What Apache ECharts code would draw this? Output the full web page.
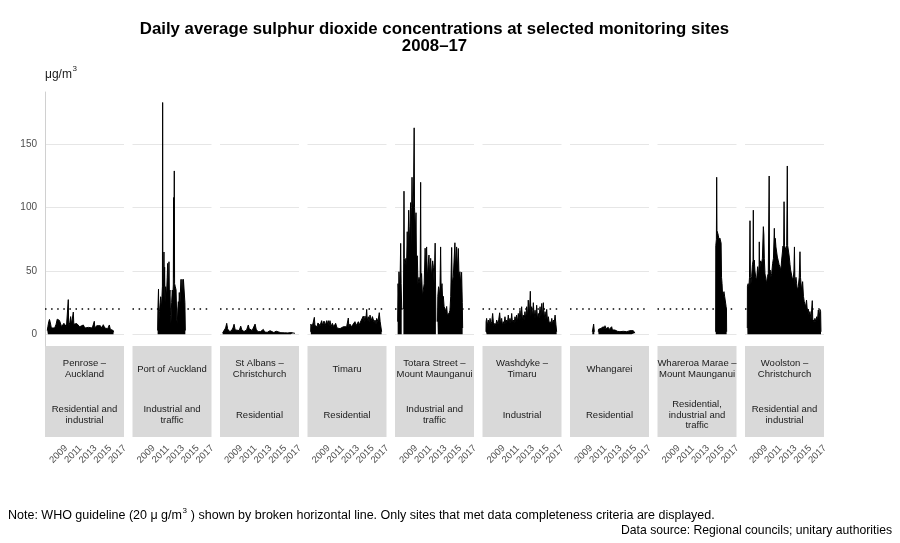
<!DOCTYPE html>
<html><head><meta charset="utf-8">
<script src="https://cdn.jsdelivr.net/npm/echarts@6/dist/echarts.min.js"></script>
<style>html,body{margin:0;padding:0;background:#fff}#c{width:900px;height:543px}</style>
</head><body><div id="c"></div>
<script>
// ---------------- data ----------------
const siteNames = ['Penrose –\nAuckland', 'Port of Auckland', 'St Albans –\nChristchurch', 'Timaru',
  'Totara Street –\nMount Maunganui', 'Washdyke –\nTimaru', 'Whangarei', 'Whareroa Marae –\nMount Maunganui', 'Woolston –\nChristchurch'];
const siteTypes = ['Residential and\nindustrial', 'Industrial and\ntraffic', 'Residential', 'Residential',
  'Industrial and\ntraffic', 'Industrial', 'Residential', 'Residential,\nindustrial and\ntraffic', 'Residential and\nindustrial'];
const yearTicks = [2009, 2011, 2013, 2015, 2017];
const valueTicks = [0, 50, 100, 150];
const whoGuideline = 20;

// [decimal year, µg/m3] – upper envelope of the daily series
const penrose = [[2008.0,3],[2008.08,6],[2008.2,10],[2008.3,11.8],[2008.42,9],[2008.55,5],[2008.75,4.5],[2009.0,5],[2009.2,8],[2009.35,12],[2009.5,13],[2009.65,11],[2009.8,10],[2009.95,6],[2010.1,6],[2010.25,8.7],[2010.45,8],[2010.6,6],[2010.8,7],[2010.85,27.4],[2010.9,7],[2011.05,9],[2011.17,14],[2011.3,8],[2011.45,9],[2011.53,17.6],[2011.6,8],[2011.8,9.5],[2012.0,8.5],[2012.2,9.5],[2012.4,6],[2012.6,5],[2012.89,7.4],[2013.1,5],[2013.3,6],[2013.6,5.5],[2013.85,6],[2014.1,5],[2014.3,5],[2014.38,10.3],[2014.45,5],[2014.7,6.8],[2014.95,6],[2015.2,6.8],[2015.4,5],[2015.6,7.6],[2015.8,5],[2016.06,6],[2016.2,4.5],[2016.42,7.4],[2016.55,4],[2016.75,3.4],[2016.95,3],[2017.0,1.5]];
const portAuckland = [[2011.1,3],[2011.14,20],[2011.22,35.8],[2011.27,10],[2011.35,18],[2011.45,25],[2011.51,29.7],[2011.6,20],[2011.69,30],[2011.75,38],[2011.78,183],[2011.81,40],[2011.88,30],[2011.96,65],[2012.0,38],[2012.05,53],[2012.1,25],[2012.19,37.6],[2012.3,30],[2012.4,45],[2012.46,56],[2012.55,35],[2012.64,57.3],[2012.7,30],[2012.78,35],[2012.85,15],[2012.91,9],[2013.0,25],[2013.09,35],[2013.16,30],[2013.23,39],[2013.27,108],[2013.31,45],[2013.36,129],[2013.4,40],[2013.5,37.6],[2013.6,35],[2013.7,12],[2013.77,8],[2013.84,20],[2013.91,25.8],[2013.98,20],[2014.04,33],[2014.12,22],[2014.2,35],[2014.27,43.4],[2014.35,30],[2014.42,43.4],[2014.5,28],[2014.6,43.4],[2014.72,43.4],[2014.8,25],[2014.86,3]];
const stAlbans = [[2008.05,1.2],[2008.25,2.5],[2008.45,5],[2008.6,8.7],[2008.72,4.5],[2008.9,2.5],[2009.2,2.5],[2009.45,5],[2009.6,8],[2009.75,3.5],[2010.0,2.2],[2010.3,3],[2010.5,6.5],[2010.65,3.5],[2010.95,2.2],[2011.3,3.5],[2011.53,7.4],[2011.65,4.5],[2011.8,5.5],[2012.05,3],[2012.3,4.5],[2012.45,8.1],[2012.6,4],[2012.85,2],[2013.2,2.2],[2013.45,3.5],[2013.57,3.9],[2013.75,1.8],[2014.1,1.6],[2014.35,2.5],[2014.48,2.9],[2014.65,1.5],[2015.0,1.4],[2015.3,2.5],[2015.38,2.9],[2015.55,1.4],[2015.95,1.3],[2016.2,2],[2016.28,2.3],[2016.45,1.2],[2016.9,1.1],[2017.3,1.4],[2017.42,1.5],[2017.6,1.1],[2017.86,0.8]];
const timaru = [[2008.12,2],[2008.15,8.1],[2008.3,6],[2008.45,9],[2008.62,13.4],[2008.7,7],[2008.84,8],[2009.0,6],[2009.1,9],[2009.25,10],[2009.4,7],[2009.61,10.8],[2009.75,7],[2009.93,10.5],[2010.1,7],[2010.29,10.8],[2010.4,8],[2010.51,10.8],[2010.62,7],[2010.74,10.8],[2010.9,6],[2011.06,8.7],[2011.25,6],[2011.51,8.7],[2011.7,5],[2011.87,5.5],[2012.1,4.5],[2012.32,5.5],[2012.55,6],[2012.75,5],[2013.0,6],[2013.15,6],[2013.23,12.9],[2013.3,6],[2013.45,8.1],[2013.65,6],[2013.9,8.1],[2014.13,10],[2014.3,7],[2014.59,10],[2014.7,7],[2014.81,9],[2015.0,8],[2015.26,14.4],[2015.38,10],[2015.49,14.4],[2015.6,11],[2015.72,19.7],[2015.8,11],[2015.94,13.9],[2016.05,10],[2016.17,15.2],[2016.35,11],[2016.5,14],[2016.62,15.2],[2016.75,9],[2016.85,11.3],[2017.0,8],[2017.08,12.6],[2017.25,10],[2017.43,17.1],[2017.55,10],[2017.7,9],[2017.75,2]];
const totaraStreet = [[2008.05,10],[2008.1,40],[2008.18,30],[2008.23,49.4],[2008.3,35],[2008.4,50],[2008.46,71.8],[2008.52,40],[2008.6,20],[2008.63,null],[2008.83,20],[2008.87,60],[2008.91,113],[2008.95,60],[2009.05,55],[2009.18,60],[2009.25,50],[2009.35,81],[2009.42,60],[2009.55,98],[2009.62,70],[2009.72,85],[2009.81,104],[2009.88,70],[2009.95,100],[2010.0,124],[2010.08,95],[2010.2,110],[2010.29,163],[2010.34,100],[2010.4,100],[2010.47,80],[2010.54,96],[2010.6,60],[2010.72,62],[2010.8,40],[2010.95,45],[2011.1,40],[2011.17,120],[2011.22,45],[2011.3,48],[2011.42,30],[2011.53,35],[2011.65,40],[2011.78,68],[2011.85,50],[2011.92,60],[2011.98,69],[2012.08,45],[2012.2,55],[2012.3,62.6],[2012.4,45],[2012.53,60],[2012.65,45],[2012.8,58],[2012.9,53],[2013.0,40],[2013.14,72],[2013.2,35],[2013.24,10],[2013.25,null],[2013.46,10],[2013.5,30],[2013.6,37.6],[2013.7,30],[2013.8,37.6],[2013.88,69],[2013.95,35],[2014.07,40],[2014.15,28],[2014.25,30],[2014.35,22],[2014.5,22],[2014.6,18],[2014.7,22],[2014.8,15],[2014.92,14],[2015.05,17],[2015.15,19],[2015.25,30],[2015.38,68.6],[2015.45,40],[2015.6,45.5],[2015.7,45],[2015.82,72.3],[2015.92,50],[2016.05,69],[2016.15,50],[2016.28,67.8],[2016.38,45],[2016.5,49.4],[2016.6,40],[2016.73,49],[2016.82,25],[2016.87,5]];
const washdyke = [[2008.16,2],[2008.18,10],[2008.25,12.6],[2008.36,7],[2008.48,11.3],[2008.6,7],[2008.71,12.6],[2008.85,8],[2008.95,10],[2009.07,16.5],[2009.2,7],[2009.38,8.7],[2009.5,7],[2009.61,11.3],[2009.8,8],[2009.9,12],[2010.02,17],[2010.15,8],[2010.29,12.6],[2010.4,7],[2010.51,10],[2010.62,8],[2010.74,13.9],[2010.85,8],[2010.97,11.3],[2011.08,9],[2011.19,15.2],[2011.3,9],[2011.42,12.6],[2011.55,9],[2011.65,16.5],[2011.76,9],[2011.87,11.3],[2012.0,9],[2012.1,13.9],[2012.22,10],[2012.32,15.2],[2012.44,10],[2012.55,16.5],[2012.66,11],[2012.78,19],[2012.9,12],[2013.0,21.8],[2013.12,11],[2013.23,15.2],[2013.34,11],[2013.45,17.9],[2013.56,12],[2013.68,21.8],[2013.8,14],[2013.9,27],[2014.05,15],[2014.18,34],[2014.26,14],[2014.36,21.8],[2014.48,14],[2014.59,25],[2014.7,13],[2014.82,19],[2014.93,13],[2015.04,23],[2015.15,12],[2015.27,16.5],[2015.38,13],[2015.5,21.8],[2015.62,14],[2015.73,24.4],[2015.84,14],[2015.95,25],[2016.06,12],[2016.18,17.9],[2016.3,12],[2016.4,19.7],[2016.52,10],[2016.63,13.9],[2016.75,8],[2016.86,10],[2016.98,8],[2017.09,12.6],[2017.2,8],[2017.31,11.3],[2017.42,9],[2017.54,15.2],[2017.65,8],[2017.75,2]];
const whangarei = [[2010.72,2],[2010.9,8.1],[2010.99,2],[2011.0,null],[2011.53,2],[2011.56,4],[2011.72,3],[2011.89,4.7],[2012.05,3.5],[2012.21,6],[2012.32,4],[2012.44,6.8],[2012.55,4.5],[2012.66,6],[2012.78,4],[2012.89,5.5],[2013.0,3.8],[2013.12,5.2],[2013.22,4],[2013.34,6],[2013.45,3.5],[2013.57,4.2],[2013.68,2.8],[2013.79,3.4],[2013.9,2.6],[2014.02,3.8],[2014.13,2.4],[2014.25,2.9],[2014.36,2],[2014.47,2.1],[2014.7,2.1],[2014.92,2.4],[2015.15,2.9],[2015.38,2.1],[2015.6,2.6],[2015.83,2.9],[2016.05,2.6],[2016.28,2.9],[2016.48,2.9],[2016.5,1]];
const whareroaMarae = [[2015.58,2],[2015.6,70],[2015.68,75],[2015.72,124],[2015.76,82],[2015.85,81.8],[2015.95,78],[2016.05,74],[2016.15,76],[2016.25,75],[2016.32,72],[2016.38,45],[2016.45,40],[2016.53,30],[2016.62,32],[2016.71,33.7],[2016.8,30],[2016.88,30],[2016.95,24],[2017.0,21.8],[2017.05,20],[2017.07,2]];
const woolston = [[2008.0,5],[2008.02,38],[2008.12,40],[2008.2,35],[2008.3,45],[2008.37,89.7],[2008.42,45],[2008.5,40],[2008.59,45.5],[2008.7,55],[2008.78,58],[2008.82,98],[2008.86,55],[2008.95,58.6],[2009.04,50],[2009.15,45],[2009.27,42.9],[2009.4,53.4],[2009.5,45],[2009.6,55],[2009.63,73],[2009.68,50],[2009.81,58],[2009.95,56],[2010.05,60],[2010.18,85],[2010.25,78.4],[2010.31,60],[2010.4,48],[2010.49,48],[2010.6,40],[2010.72,45.5],[2010.85,48],[2010.97,125],[2011.02,48],[2011.1,50.8],[2011.2,45],[2011.31,48],[2011.44,56],[2011.55,60],[2011.67,83.7],[2011.73,70],[2011.8,75.8],[2011.89,69],[2011.98,67.9],[2012.08,61],[2012.21,58],[2012.32,55],[2012.44,53.4],[2012.55,50],[2012.66,58.6],[2012.75,60],[2012.85,69.7],[2012.93,65],[2012.99,104.7],[2013.05,70],[2013.12,69],[2013.25,66.6],[2013.35,70],[2013.43,132.9],[2013.48,70],[2013.57,66.6],[2013.7,61],[2013.8,55],[2013.88,50.8],[2014.02,49.4],[2014.15,42.9],[2014.25,45],[2014.33,50],[2014.4,69],[2014.47,40],[2014.61,45],[2014.7,40],[2014.79,35],[2014.92,37.6],[2015.05,45],[2015.15,65.2],[2015.22,45],[2015.37,35],[2015.51,41.6],[2015.62,30],[2015.73,25.8],[2015.85,25.8],[2015.91,21.8],[2016.04,27],[2016.15,18],[2016.27,20],[2016.38,15],[2016.5,18],[2016.65,12],[2016.82,26.6],[2016.88,12],[2016.95,11.3],[2017.08,10],[2017.18,12.6],[2017.3,10],[2017.41,13.9],[2017.52,11],[2017.64,19.2],[2017.75,12],[2017.86,19.7],[2017.95,18],[2018.0,2]];
const siteSeries = [penrose, portAuckland, stAlbans, timaru, totaraStreet, washdyke, whangarei, whareroaMarae, woolston];

const titleLines = ['Daily average sulphur dioxide concentrations at selected monitoring sites', '2008–17'];
const noteParts = ['Note: WHO guideline (20 μ g/m', '3', ' ) shown by broken horizontal line. Only sites that met data completeness criteria are displayed.'];
const sourceText = 'Data source: Regional councils; unitary authorities';

// ---------------- layout ----------------
const FONT = "'Liberation Sans', Arial, Helvetica, sans-serif";
const P_LEFT = 45, P_STEP = 87.5, P_W = 79, P_TOP = 92, P_H = 254;
const STRIP_TOP = 346, STRIP_H = 91;
const X_MIN = 2007.69, X_MAX = 2018.41;
const Y_MIN = -9.2, Y_MAX = 191.3;

const meas = document.createElement('canvas').getContext('2d');
function tw(text, font) { meas.font = font; return meas.measureText(text).width; }

const grids = [], xAxes = [], yAxes = [], series = [], graphics = [];
siteSeries.forEach((d, i) => {
  const left = P_LEFT + P_STEP * i;
  grids.push({ left: left, top: P_TOP, width: P_W, height: P_H });
  xAxes.push({
    gridIndex: i, type: 'value', min: X_MIN, max: X_MAX,
    axisLine: { show: false }, axisTick: { show: false }, splitLine: { show: false },
    axisLabel: {
      customValues: yearTicks, rotate: 45, align: 'center', verticalAlign: 'middle',
      padding: [0, 0, 0, 11], margin: 112, fontSize: 9.5, color: '#4d4d4d', fontFamily: FONT,
      formatter: v => String(Math.round(v))
    }
  });
  yAxes.push({
    gridIndex: i, type: 'value', min: Y_MIN, max: Y_MAX,
    axisLine: { show: i === 0, lineStyle: { color: '#d0d0d0', width: 1 } },
    axisTick: { show: false, customValues: valueTicks },
    axisLabel: { show: i === 0, customValues: valueTicks, margin: 8, fontSize: 10, color: '#4d4d4d', fontFamily: FONT },
    splitLine: { show: true, lineStyle: { color: '#e6e6e6', width: 1 } }
  });
  series.push({
    type: 'line', xAxisIndex: i, yAxisIndex: i, data: d,
    showSymbol: false, symbol: 'none', connectNulls: false, silent: true,
    lineStyle: { color: '#000', width: 1 },
    areaStyle: { color: '#000', opacity: 1 },
    markLine: {
      silent: true, symbol: 'none', label: { show: false },
      lineStyle: { color: '#000', type: [1.5, 4.6], width: 1.5 },
      data: [{ yAxis: whoGuideline }]
    }
  });
  graphics.push({ type: 'rect', shape: { x: left, y: STRIP_TOP, width: P_W, height: STRIP_H }, style: { fill: '#d9d9d9' }, silent: true });
  graphics.push({ type: 'text', x: left + P_W / 2, y: 369, silent: true,
    style: { text: siteNames[i], font: '9.5px ' + FONT, fill: '#1a1a1a', align: 'center', verticalAlign: 'middle', textAlign: 'center', textVerticalAlign: 'middle', lineHeight: 10.5 } });
  graphics.push({ type: 'text', x: left + P_W / 2, y: 415, silent: true,
    style: { text: siteTypes[i], font: '9.5px ' + FONT, fill: '#1a1a1a', align: 'center', verticalAlign: 'middle', textAlign: 'center', textVerticalAlign: 'middle', lineHeight: 10.5 } });
});

// title
titleLines.forEach((t, k) => graphics.push({ type: 'text', x: 434.5, y: 29 + 17.5 * k, silent: true,
  style: { text: t, font: 'bold 16.8px ' + FONT, fill: '#000', align: 'center', verticalAlign: 'middle', textAlign: 'center', textVerticalAlign: 'middle' } }));
// unit
const unitFont = '12px ' + FONT;
graphics.push({ type: 'text', x: 45, y: 75, silent: true, style: { text: 'μg/m', font: unitFont, fill: '#1a1a1a', align: 'left', verticalAlign: 'middle', textAlign: 'left', textVerticalAlign: 'middle' } });
graphics.push({ type: 'text', x: 45 + tw('μg/m', unitFont) + 0.5, y: 68.5, silent: true, style: { text: '3', font: '8px ' + FONT, fill: '#1a1a1a', align: 'left', verticalAlign: 'middle', textAlign: 'left', textVerticalAlign: 'middle' } });
// note
const noteFont = '12.5px ' + FONT, supFont = '8px ' + FONT, srcFont = '12.2px ' + FONT;
let nx = 8;
graphics.push({ type: 'text', x: nx, y: 516, silent: true, style: { text: noteParts[0], font: noteFont, fill: '#000', align: 'left', verticalAlign: 'middle', textAlign: 'left', textVerticalAlign: 'middle' } });
nx += tw(noteParts[0], noteFont) + 0.5;
graphics.push({ type: 'text', x: nx, y: 510.5, silent: true, style: { text: noteParts[1], font: supFont, fill: '#000', align: 'left', verticalAlign: 'middle', textAlign: 'left', textVerticalAlign: 'middle' } });
nx += tw(noteParts[1], supFont) + 0.5;
graphics.push({ type: 'text', x: nx, y: 516, silent: true, style: { text: noteParts[2], font: noteFont, fill: '#000', align: 'left', verticalAlign: 'middle', textAlign: 'left', textVerticalAlign: 'middle' } });
graphics.push({ type: 'text', x: 892, y: 531, silent: true, style: { text: sourceText, font: srcFont, fill: '#000', align: 'right', verticalAlign: 'middle', textAlign: 'right', textVerticalAlign: 'middle' } });

const chart = echarts.init(document.getElementById('c'), null, { renderer: 'canvas' });
chart.setOption({
  animation: false,
  backgroundColor: '#fff',
  grid: grids, xAxis: xAxes, yAxis: yAxes, series: series,
  graphic: { elements: graphics }
});
</script></body></html>
